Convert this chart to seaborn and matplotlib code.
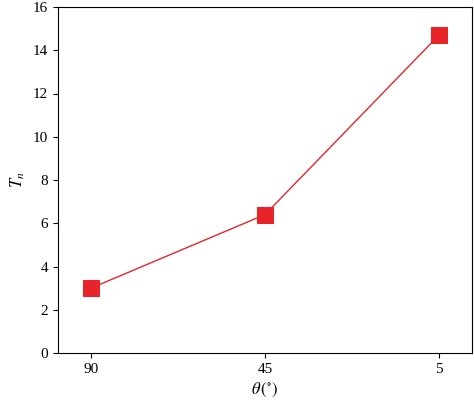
import matplotlib
matplotlib.use("Agg")
import matplotlib.pyplot as plt
import seaborn as sns
import pandas as pd

categories = ["90", "45", "5"]
tn_values = [3.0, 6.4, 14.7]

sns.set_style("ticks")
plt.rcParams['font.family'] = ['Liberation Serif', 'DejaVu Serif']
plt.rcParams['mathtext.fontset'] = 'stix'
plt.rcParams['text.color'] = 'black'
plt.rcParams['axes.labelcolor'] = 'black'
plt.rcParams['xtick.color'] = 'black'
plt.rcParams['ytick.color'] = 'black'
plt.rcParams['axes.edgecolor'] = 'black'

df = pd.DataFrame({"theta": categories, "Tn": tn_values})
fig = plt.figure(figsize=(4.74, 4.09), dpi=100)
ax = fig.add_axes([58/474, 56/409, 414/474, 346/409])
sns.lineplot(data=df, x="theta", y="Tn", ax=ax, color="#e8242b", linewidth=1,
             marker="s", markersize=11, markeredgecolor="#e8242b", sort=False)
ax.set_xlim(-0.19, 2.19)
ax.set_ylim(0, 16)
ax.set_yticks(range(0, 17, 2))
ax.set_xlabel(r"$\theta\,(^{\circ})$", fontsize=12)
ax.set_ylabel(r"$T_n$", fontsize=12)
ax.tick_params(labelsize=11)
fig.savefig("out.png", dpi=100)
